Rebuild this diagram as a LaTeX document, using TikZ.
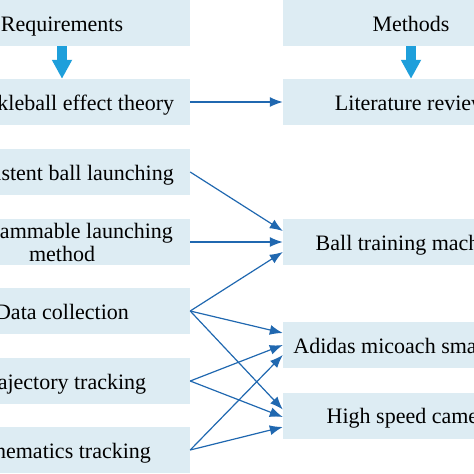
\documentclass[tikz,border=0pt]{standalone}
\usepackage{fontspec}
\setmainfont{Liberation Serif}
\usetikzlibrary{arrows.meta}
\definecolor{boxfill}{HTML}{DDECF3}
\definecolor{lineblue}{HTML}{2068B0}
\definecolor{arrowblue}{HTML}{1E9FDB}
\begin{document}
\begin{tikzpicture}[x=1pt,y=-1pt,
  box/.style={fill=boxfill, minimum width=256pt, minimum height=46pt, inner sep=0pt, align=center, font=\fontsize{22}{23}\selectfont},
  one/.style={box, text height=16pt, text depth=0pt},
  conn/.style={draw=lineblue, line width=1.2pt, -{Latex[length=13pt,width=10pt]}},
  blk/.style={draw=arrowblue, line width=10pt, -{Triangle[length=19pt,width=19pt]}}]
\useasboundingbox (0,0) rectangle (474,474);
\clip (0,0) rectangle (474,474);
% left column
\node[one] (req) at (62,23) {Requirements};
\node[one] (kt) at (62,102) {Knuckleball effect theory};
\node[one] (cbl) at (62,172) {Consistent ball launching};
\node[box] (plm) at (62,242) {Programmable launching\\method};
\node[one] (dc) at (62,311) {Data collection};
\node[one] (tt) at (62,381) {Trajectory tracking};
\node[one] (kin) at (62,450) {Kinematics tracking};
% right column
\node[one] (meth) at (411,23) {Methods};
\node[one] (lr) at (411,102) {Literature review};
\node[one] (btm) at (411,242) {Ball training machine};
\node[one] (ams) at (411,345) {Adidas micoach smart ball};
\node[one] (hsc) at (411,415.5) {High speed camera};
% block arrows
\draw[blk] (req.south) -- (kt.north);
\draw[blk] (meth.south) -- (lr.north);
% connectors
\draw[conn] (kt.east) -- (lr.west);
\draw[conn] (cbl.east) -- ([yshift=11pt]btm.west);
\draw[conn] (plm.east) -- (btm.west);
\draw[conn] (dc.east) -- ([yshift=-10pt]btm.west);
\draw[conn] (dc.east) -- ([yshift=12pt]ams.west);
\draw[conn] (dc.east) -- ([yshift=6pt]hsc.west);
\draw[conn] (tt.east) -- (ams.west);
\draw[conn] (tt.east) -- ([yshift=-1.5pt]hsc.west);
\draw[conn] (kin.east) -- ([yshift=-10pt]ams.west);
\draw[conn] (kin.east) -- ([yshift=-11.5pt]hsc.west);
\end{tikzpicture}
\end{document}
